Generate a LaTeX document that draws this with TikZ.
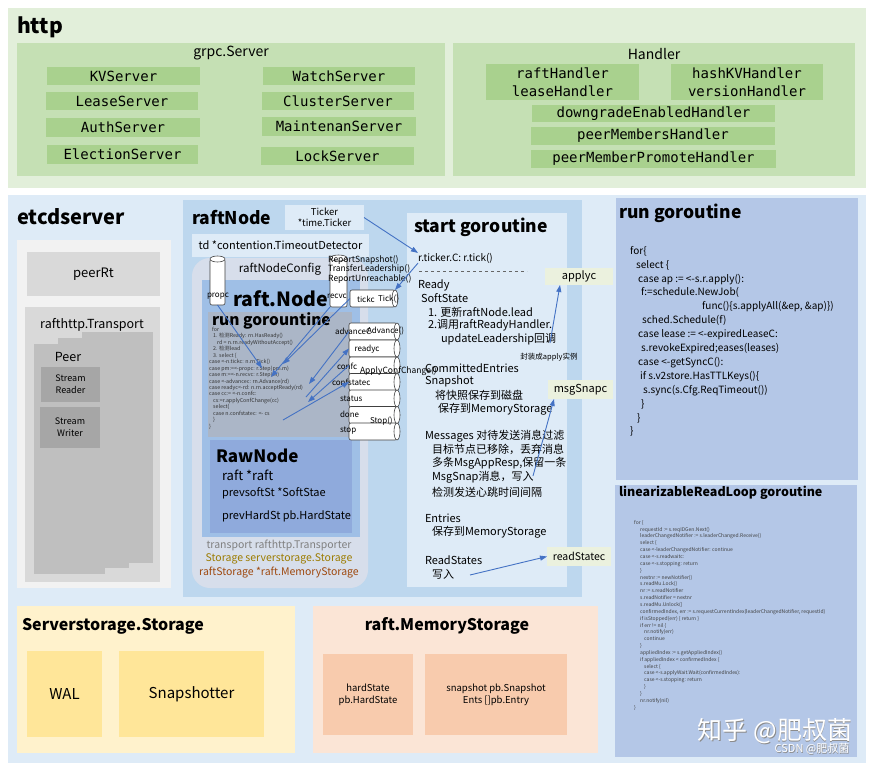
\documentclass[tikz,border=0pt]{standalone}
\usepackage{fontspec}
\setmainfont{Noto Sans CJK SC}
\newfontfamily\monof{DejaVu Sans Mono}
\usetikzlibrary{arrows.meta}
\newcommand\fz[2]{\fontsize{#1pt}{#2pt}\selectfont}
\definecolor{httpbg}{HTML}{E2EFDA}
\definecolor{grpcbg}{HTML}{C5E0B4}
\definecolor{srvbg}{HTML}{A9D18E}
\definecolor{etcdbg}{HTML}{DEEBF7}
\definecolor{leftbg}{HTML}{F2F2F2}
\definecolor{grayA}{HTML}{D9D9D9}
\definecolor{grayB}{HTML}{BFBFBF}
\definecolor{grayC}{HTML}{A6A6A6}
\definecolor{rnbg}{HTML}{BDD7EE}
\definecolor{rnlight}{HTML}{DEEBF7}
\definecolor{cfgbg}{HTML}{D7DEEB}
\definecolor{nodebg}{HTML}{9FBFE6}
\definecolor{rungray}{HTML}{ABB6C7}
\definecolor{rawbg}{HTML}{8FAADC}
\definecolor{chanbg}{HTML}{EBF1DE}
\definecolor{runbg}{HTML}{B4C7E7}
\definecolor{ssbg}{HTML}{FFF2CC}
\definecolor{ssbox}{HTML}{FFE699}
\definecolor{msbg}{HTML}{FBE5D6}
\definecolor{msbox}{HTML}{F8CBAD}
\definecolor{arrowc}{HTML}{4472C4}
\definecolor{olivetxt}{HTML}{9C7B00}
\definecolor{browntxt}{HTML}{9E480E}
\newcommand\hcyl[5]{%
  \pgfmathsetmacro\hcylcx{#2+#4-3}%
  \node[cylbody, anchor=west, minimum width={#4-3}, minimum height=#5] (#1) at (#2,#3) {};
  \draw[cylline] (\hcylcx,#3) ellipse [x radius=3pt, y radius={#5/2*1pt}];
}
\newcommand\vcyl[5]{%
  \pgfmathsetmacro\vcylcy{#3+3}%
  \node[cylbody, anchor=north, minimum width=#4, minimum height={#5-3}] (#1) at (#2,\vcylcy) {};
  \draw[cylline] (#2,\vcylcy) ellipse [x radius={#4/2*1pt}, y radius=3pt];
}
\begin{document}
\begin{tikzpicture}[x=1pt,y=-1pt,
  box/.style={anchor=north west, inner sep=0pt, outer sep=0pt, draw=none},
  txt/.style={anchor=west, inner sep=0pt, outer sep=0pt},
  ctxt/.style={inner sep=0pt, outer sep=0pt},
  mono/.style={font={\monof\fz{14}{18}}},
  arr/.style={draw=arrowc, line width=0.9pt, -{Triangle[length=7pt,width=5pt]}},
  cylbody/.style={draw=black!75, fill=white, line width=0.6pt, rounded corners=2pt, inner sep=0pt, outer sep=0pt},
  cylline/.style={draw=black!75, fill=white, line width=0.6pt},
  lbl/.style={inner sep=0pt, outer sep=0pt, font={\fz{8}{9}}},
  sgt/.style={anchor=west, inner sep=0pt, outer sep=0pt, font={\fz{11}{13}}},
]
\useasboundingbox[fill=white] (0,0) rectangle (876,766);

% ---------------- http ----------------
\node[box, fill=httpbg, minimum width=858, minimum height=180] (http) at (8,8) {};
\node[txt, font={\bfseries\fz{21}{24}}] (httpT) at (17,27) {http};
\node[box, fill=grpcbg, minimum width=428, minimum height=133] (grpc) at (17,43) {};
\node[ctxt, font={\fz{14}{16}}] (grpcT) at (231,53) {grpc.Server};
\node[box, fill=srvbg, minimum width=153, minimum height=18, mono] (kv) at (47,67) {KVServer};
\node[box, fill=srvbg, minimum width=152, minimum height=18, mono] (lease) at (46,92) {LeaseServer};
\node[box, fill=srvbg, minimum width=154, minimum height=19, mono] (auth) at (46,118) {AuthServer};
\node[box, fill=srvbg, minimum width=151, minimum height=19, mono] (elect) at (47,145) {ElectionServer};
\node[box, fill=srvbg, minimum width=152, minimum height=18, mono] (watch) at (263,67) {WatchServer};
\node[box, fill=srvbg, minimum width=152, minimum height=18, mono] (cluster) at (262,92) {ClusterServer};
\node[box, fill=srvbg, minimum width=154, minimum height=19, mono] (maint) at (262,117) {MaintenanServer};
\node[box, fill=srvbg, minimum width=153, minimum height=18, mono] (lock) at (261,147) {LockServer};

\node[box, fill=grpcbg, minimum width=402, minimum height=133] (handler) at (453,43) {};
\node[ctxt, font={\fz{14}{16}}] (handlerT) at (654,54) {Handler};
\node[box, fill=srvbg, minimum width=153, minimum height=36, mono, align=center] (h1) at (486,64) {raftHandler\\leaseHandler};
\node[box, fill=srvbg, minimum width=152, minimum height=36, mono, align=center] (h2) at (671,64) {hashKVHandler\\versionHandler};
\node[box, fill=srvbg, minimum width=243, minimum height=17, mono] (h3) at (532,105) {downgradeEnabledHandler};
\node[box, fill=srvbg, minimum width=244, minimum height=18, mono] (h4) at (531,127) {peerMembersHandler};
\node[box, fill=srvbg, minimum width=245, minimum height=18, mono] (h5) at (531,150) {peerMemberPromoteHandler};

% ---------------- etcdserver ----------------
\node[box, fill=etcdbg, minimum width=858, minimum height=568] (etcd) at (8,195) {};
\node[txt, font={\bfseries\fz{20}{24}}] (etcdT) at (17,217) {etcdserver};

% left column
\node[box, fill=leftbg, minimum width=154, minimum height=348] (left) at (17,240) {};
\node[box, fill=grayA, minimum width=133, minimum height=44, font={\fz{13}{15}}] (peerRt) at (27,252) {peerRt};
\node[box, fill=grayA, minimum width=135, minimum height=275] (trans) at (25,307) {};
\node[ctxt, font={\fz{12.5}{15}}] (transT) at (92,325) {rafthttp.Transport};
\node[box, fill=grayB, minimum width=71, minimum height=231] (peerA) at (82,332) {};
\node[box, fill=grayB, minimum width=71, minimum height=230] (peerB) at (58,338) {};
\node[box, fill=grayB, minimum width=71, minimum height=230] (peerC) at (34,344) {};
\node[ctxt, font={\fz{12.5}{15}}] (peerT) at (68,357) {Peer};
\node[box, fill=grayC, minimum width=59, minimum height=35, font={\fz{9}{12}}, align=center] (sr) at (41,367) {Stream\\Reader};
\node[box, fill=grayC, minimum width=60, minimum height=41, font={\fz{9}{12}}, align=center] (sw) at (40,407) {Stream\\Writer};

% raftNode
\node[box, fill=rnbg, minimum width=399, minimum height=397] (rn) at (183,200) {};
\node[txt, font={\bfseries\fz{17.5}{20}}] (rnT) at (192,218) {raftNode};
\node[box, fill=rnlight, minimum width=79, minimum height=25, font={\fz{9.5}{11.5}}, align=center] (ticker) at (285,205) {Ticker\\*time.Ticker};
\node[box, fill=rnlight, minimum width=177, minimum height=23, font={\fz{11}{13}}] (td) at (192,234) {td *contention.TimeoutDetector};
\node[box, fill=rnlight, minimum width=160, minimum height=374] (sg) at (407,213) {};
\node[box, fill=cfgbg, rounded corners=18pt, minimum width=176, minimum height=330] (cfg) at (192,258) {};
\node[ctxt, font={\fz{11.5}{13}}] (cfgT) at (280,269) {raftNodeConfig};
\node[box, fill=nodebg, minimum width=158, minimum height=257] (rnode) at (202,280) {};
\node[txt, font={\bfseries\fz{19.5}{22}}] (rnodeT) at (233,299) {raft.Node};
\node[box, fill=rungray, minimum width=144, minimum height=125] (runA) at (208,312) {};
\node[txt, font={\bfseries\fz{15.5}{18}}] (runAT) at (212,321) {run gorountine};
\node[anchor=north west, inner sep=0pt, align=left, font={\fz{5.3}{6.45}}, text=black!80] (rcode) at (209,327) {%
\hspace*{3pt}for\\
\hspace*{4pt}1. 检测Ready: rn.HasReady()\\
\hspace*{8pt}rd = n.rn.readyWithoutAccept()\\
\hspace*{4pt}2. 检测lead\\
\hspace*{4pt}3. select \{\\
case <-n.tickc: n.rn.Tick()\\
case pm:=<-propc: r.Step(pm.m)\\
case m:=<-n.recvc: r.Step(m)\\
case <-advancec: rn.Advance(rd)\\
case readyc<-rd: n.rn.acceptReady(rd)\\
case cc:= <-n.confc:\\
\hspace*{4pt}cs:=r.applyConfChange(cc)\\
\hspace*{4pt}select\{\\
\hspace*{4pt}case n.confstatec: <- cs\\
\hspace*{4pt}\}\\
\}};
\node[box, fill=rawbg, minimum width=142, minimum height=93] (raw) at (210,440) {};
\node[txt, font={\bfseries\fz{17}{20}}] (rawT) at (216,456) {RawNode};
\node[txt, font={\fz{13}{15}}] (raw1) at (222,475) {raft *raft};
\node[txt, font={\fz{11}{13}}] (raw2) at (222,493) {prevsoftSt *SoftStae};
\node[txt, font={\fz{11}{13}}] (raw3) at (222,516) {prevHardSt pb.HardState};
\node[ctxt, font={\fz{10.5}{12}}, text=black!50] (f1) at (279,545) {transport rafthttp.Transporter};
\node[ctxt, font={\fz{10.5}{12}}, text=olivetxt] (f2) at (279,559) {Storage serverstorage.Storage};
\node[ctxt, font={\fz{10.5}{12}}, text=browntxt] (f3) at (279,573) {raftStorage *raft.MemoryStorage};

% channels (cylinders)
\vcyl{propc}{217.5}{256}{15}{49}
\vcyl{recvc}{338.5}{255}{17}{52}
\hcyl{tickc}{350}{298.5}{48}{17}
\hcyl{advc}{349}{331.5}{51}{17}
\hcyl{readyc}{349}{348.5}{51}{17}
\hcyl{confc}{349}{365.5}{51}{17}
\hcyl{confstatec}{349}{382}{51}{17}
\hcyl{statusc}{349}{398.5}{51}{17}
\hcyl{donec}{349}{415}{51}{17}
\hcyl{stopc}{349}{431.5}{51}{17}
\node[lbl, anchor=west] (propcL) at (207,296) {propc};
\node[lbl, anchor=west] (recvcL) at (327,296) {recvc};
\node[anchor=north west, inner sep=0pt, align=left, font={\fz{8.5}{9.8}}] (reportL) at (328,255) {ReportSnapshot()\\TransferLeadership()\\ReportUnreachable()};
\node[lbl, anchor=west] (tickcL) at (357,299) {tickc};
\node[lbl, anchor=east] (tickL) at (399,299) {Tick()};
\node[lbl, anchor=west] (advcL) at (335,331) {advanceC};
\node[lbl, anchor=east] (advL) at (404,331) {Advance()};
\node[lbl] (readycL) at (367,349) {readyc};
\node[lbl, anchor=west] (confcL) at (337,366) {confc};
\node[lbl, anchor=west, font={\fz{8.5}{9}}] (applyCL) at (360,371) {ApplyConfChange()};
\node[lbl, anchor=west] (confstatecL) at (332,382) {confstatec};
\node[lbl, anchor=west] (statusL) at (340,398.5) {status};
\node[lbl, anchor=west] (doneL) at (340,414) {done};
\node[lbl, anchor=west] (stopCL) at (370,421) {Stop()};
\node[lbl, anchor=west] (stopL) at (340,431) {stop};

% start goroutine
\node[txt, font={\bfseries\fz{17.5}{20}}] (sgT) at (414,227) {start goroutine};
\node[txt, font={\fz{10}{12}}] (rtick) at (418,258) {r.ticker.C: r.tick()};
\coordinate (sepA) at (419,271);
\coordinate (sepB) at (527,271);
\draw[black!60, line width=0.6pt, dash pattern=on 3pt off 3pt] (sepA) -- (sepB);
\node[sgt] (sg1) at (418,285) {Ready};
\node[sgt] (sg2) at (421,298) {SoftState};
\node[sgt] (sg3) at (428,312) {1. 更新raftNode.lead};
\node[sgt] (sg4) at (428,325) {2.调用raftReadyHandler.};
\node[sgt] (sg5) at (441,339) {updateLeadership回调};
\node[ctxt, font={\fz{7.5}{9}}] (sgWrap) at (549,357) {封装成apply实例};
\node[sgt] (sg6) at (425,368) {CommittedEntries};
\node[sgt] (sg7) at (425,381) {Snapshot};
\node[sgt] (sg8) at (435,395) {将快照保存到磁盘};
\node[sgt] (sg9) at (438,409) {保存到MemoryStorage};
\node[sgt] (sg10) at (425,436) {Messages 对待发送消息过滤};
\node[sgt] (sg11) at (432,449) {目标节点已移除，丢弃消息};
\node[sgt] (sg12) at (432,463) {多条MsgAppResp,保留一条};
\node[sgt] (sg13) at (432,477) {MsgSnap消息，写入};
\node[sgt] (sg14) at (432,492) {检测发送心跳时间间隔};
\node[sgt] (sg15) at (425,518) {Entries};
\node[sgt] (sg16) at (432,532) {保存到MemoryStorage};
\node[sgt] (sg17) at (425,560) {ReadStates};
\node[sgt] (sg18) at (432,574) {写入};

\node[box, fill=chanbg, minimum width=68, minimum height=17, font={\fz{11}{13}}] (applyc) at (545,268) {applyc};
\node[box, fill=chanbg, minimum width=65, minimum height=19, font={\fz{11}{13}}] (msgSnapc) at (548,380) {msgSnapc};
\node[box, fill=chanbg, minimum width=64, minimum height=19, font={\fz{10.5}{13}}] (readStatec) at (547,547) {readStatec};

% run goroutine (right)
\node[box, fill=runbg, minimum width=242, minimum height=282] (runB) at (616,198) {};
\node[txt, font={\bfseries\fz{17.5}{20}}] (runBT) at (619,213) {run goroutine};
\node[anchor=north west, inner sep=0pt, align=left, font={\fz{10}{13.9}}] (runBcode) at (630,246) {%
for\{\\
\hspace*{6pt}select \{\\
\hspace*{8pt}case ap := <-s.r.apply():\\
\hspace*{11pt}f:=schedule.NewJob(\\
\hspace*{72pt}func()\{s.applyAll(\&ep, \&ap)\})\\
\hspace*{12pt}sched.Schedule(f)\\
\hspace*{8pt}case lease := <-expiredLeaseC:\\
\hspace*{11pt}s.revokeExpired;eases(leases)\\
\hspace*{8pt}case <-getSyncC():\\
\hspace*{10pt}if s.v2store.HasTTLKeys()\{\\
\hspace*{13pt}s.sync(s.Cfg.ReqTimeout())\\
\hspace*{11pt}\}\\
\hspace*{7pt}\}\\
\}};

% linearizableReadLoop
\node[box, fill=runbg, minimum width=242, minimum height=272] (lin) at (615,485) {};
\node[txt, font={\bfseries\fz{12.5}{15}}] (linT) at (619,493) {linearizableReadLoop goroutine};
\node[anchor=north west, inner sep=0pt, align=left, font={\fz{5}{6.85}}, text=black!75] (lincode) at (634,520) {%
for \{\\
\hspace*{6pt}requestId := s.reqIDGen.Next()\\
\hspace*{6pt}leaderChangedNotifier := s.leaderChanged.Receive()\\
\hspace*{6pt}select \{\\
\hspace*{6pt}case <-leaderChangedNotifier: continue\\
\hspace*{6pt}case <-s.readwaitc:\\
\hspace*{6pt}case <-s.stopping: return\\
\hspace*{6pt}\}\\
\hspace*{6pt}nextnr := newNotifier()\\
\hspace*{6pt}s.readMu.Lock()\\
\hspace*{6pt}nr := s.readNotifier\\
\hspace*{6pt}s.readNotifier = nextnr\\
\hspace*{6pt}s.readMu.Unlock()\\
\hspace*{6pt}confirmedIndex, err := s.requestCurrentIndex(leaderChangedNotifier, requestId)\\
\hspace*{6pt}if isStopped(err) \{ return \}\\
\hspace*{6pt}if err != nil \{\\
\hspace*{10pt}nr.notify(err)\\
\hspace*{10pt}continue\\
\hspace*{6pt}\}\\
\hspace*{6pt}appliedIndex := s.getAppliedIndex()\\
\hspace*{6pt}if appliedIndex < confirmedIndex \{\\
\hspace*{10pt}select \{\\
\hspace*{10pt}case <-s.applyWait.Wait(confirmedIndex):\\
\hspace*{10pt}case <-s.stopping: return\\
\hspace*{10pt}\}\\
\hspace*{6pt}\}\\
\hspace*{6pt}nr.notify(nil)\\
\}};

% storages
\node[box, fill=ssbg, minimum width=278, minimum height=147] (ss) at (17,606) {};
\node[txt, font={\bfseries\fz{16}{19}}] (ssT) at (22,626) {Serverstorage.Storage};
\node[box, fill=ssbox, minimum width=75, minimum height=86, font={\fz{15}{18}}] (wal) at (27,651) {WAL};
\node[box, fill=ssbox, minimum width=145, minimum height=86, font={\fz{15}{18}}] (snapper) at (119,651) {Snapshotter};
\node[box, fill=msbg, minimum width=285, minimum height=147] (ms) at (313,606) {};
\node[ctxt, font={\bfseries\fz{16}{19}}] (msT) at (447,626) {raft.MemoryStorage};
\node[box, fill=msbox, minimum width=90, minimum height=81, font={\fz{9.5}{12}}, align=center] (hs) at (323,654) {hardState\\pb.HardState};
\node[box, fill=msbox, minimum width=142, minimum height=81, font={\fz{9.5}{12}}, align=center] (snap) at (425,654) {snapshot pb.Snapshot\\Ents []pb.Entry};

% watermark
\node[ctxt, font={\fz{25}{28}}, text=black!45] (wmS) at (775.8,731.8) {知乎 @肥叔菌};
\node[ctxt, font={\fz{25}{28}}, text=white] (wm) at (775,731) {知乎 @肥叔菌};
\node[ctxt, font={\fz{11}{13}}, text=black!45] (wm2S) at (812.6,749.6) {CSDN @肥叔菌};
\node[ctxt, font={\fz{11}{13}}, text=white] (wm2) at (812,749) {CSDN @肥叔菌};

% connectors
\coordinate (pTickIn) at (283,364);
\coordinate (pPropIn) at (262,368);
\coordinate (pRecvIn) at (271,377);
\coordinate (pAdvIn) at (309,384);
\coordinate (pReadyOut) at (306,397);
\coordinate (pConfIn) at (308,402);
\coordinate (pCsOut) at (283,420);
\coordinate (pApplyOut) at (550,343);
\coordinate (pSnapOut) at (533,476);
\coordinate (pReadOut) at (470,575);
\draw[arr] (ticker.east) -- (rtick.north west);
\draw[arr] (rtick.south west) -- (tickc.north east);
\draw[arr] (tickc.west) -- (pTickIn);
\draw[arr] (propc.south) -- (pPropIn);
\draw[arr] (recvc.south west) -- (pRecvIn);
\draw[arr] (advc.west) -- (pAdvIn);
\draw[arr] (pReadyOut) -- (readyc.west);
\draw[arr] (confc.west) -- (pConfIn);
\draw[arr] (pCsOut) -- (confstatec.west);
\draw[arr] (pApplyOut) -- ([xshift=15pt]applyc.south west);
\draw[arr] (pSnapOut) -- ([xshift=6pt]msgSnapc.south west);
\draw[arr] (pReadOut) -- (readStatec.west);
\end{tikzpicture}
\end{document}
